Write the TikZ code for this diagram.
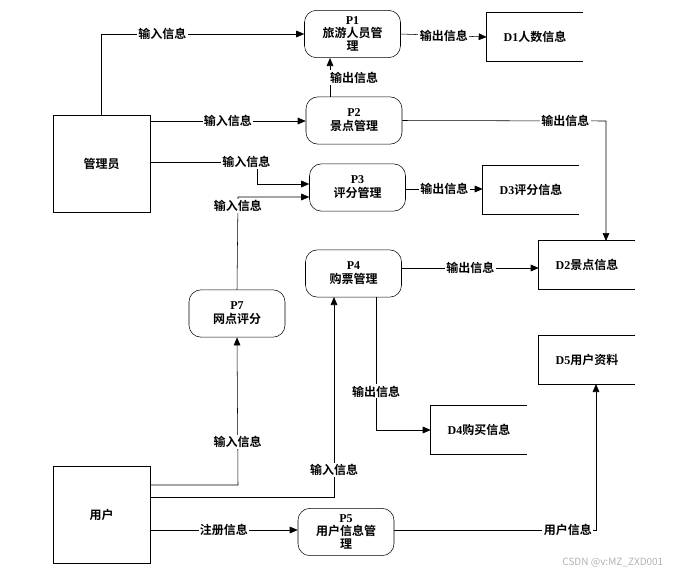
\documentclass[tikz,border=0pt]{standalone}
\usepackage{fontspec}
\setmainfont{Liberation Serif}
\newfontfamily\cjk{Noto Sans CJK SC}[BoldFont={Noto Sans CJK SC Bold}]
\usetikzlibrary{arrows.meta}
\begin{document}
\begin{tikzpicture}[x=0.75pt,y=-0.75pt,font=\bfseries\fontsize{9}{10.5}\selectfont,
 ent/.style={draw,semithick,minimum width=72.75pt,minimum height=72.75pt},
 proc/.style={draw,rounded corners=9pt,minimum width=72pt,minimum height=35.5pt,align=center,inner sep=1pt},
 lbl/.style={fill=white,inner sep=1pt},
 ar/.style={-{Triangle[length=6pt,width=5pt]}},
 st/.style={draw,minimum width=72pt,minimum height=36pt}]
\useasboundingbox (0,0) rectangle (674,575);
\node[ent] (adm) at (101.5,163.5) {\cjk 管理员};
\node[ent] (usr) at (101.5,514.5) {\cjk 用户};
\node[proc] (p1) at (352.5,34) {P1\\[-1pt]{\cjk 旅游人员管}\\[-1pt]{\cjk 理}};
\node[proc] (p2) at (354,120.5) {P2\\{\cjk 景点管理}};
\node[proc] (p3) at (357.5,187.5) {P3\\{\cjk 评分管理}};
\node[proc] (p4) at (353.5,273.5) {P4\\{\cjk 购票管理}};
\node[proc] (p7) at (237,313.5) {P7\\{\cjk 网点评分}};
\node[proc] (p5) at (346,532) {P5\\[-1pt]{\cjk 用户信息管}\\[-1pt]{\cjk 理}};
\foreach \n/\x/\y/\t in {d1/487/13/D1{\cjk 人数信息},d3/483/166/D3{\cjk 评分信息},d2/539/241/D2{\cjk 景点信息},d5/539/336/D5{\cjk 用户资料},d4/431/406/D4{\cjk 购买信息}}{
 \node[minimum width=72pt,minimum height=36pt] (\n) at (\x+48,\y+24) {\t};
 \draw (\n.north east) -- (\n.north west) -- (\n.south west) -- (\n.south east);
}
\draw[ar] (adm.north) |- (p1.west) node[lbl,pos=0.65] {\cjk 输入信息};
\draw[ar] (150,121) -- (p2.west |- 0,121) node[lbl,pos=0.5] {\cjk 输入信息};
\draw[ar] (150,162) -- (257,162) node[lbl,pos=0.9] {\cjk 输入信息} -- (257,184) -- (p3.west |- 0,184);
\draw[ar] (p7.north) -- (238,197) node[lbl,pos=0.9] {\cjk 输入信息} -- (p3.west |- 0,197);
\draw[ar] (p1.east) -- (d1.west) node[lbl,midway] {\cjk 输出信息};
\draw[ar] (330,97) -- (330,58) node[lbl,midway,xshift=18pt] {\cjk 输出信息};
\draw[ar] (p2.east) -- (606,121) node[lbl,pos=0.8] {\cjk 输出信息} -- (606,241);
\draw[ar] (p3.east |- 0,189) -- (d3.west |- 0,189) node[lbl,midway] {\cjk 输出信息};
\draw[ar] (p4.east |- 0,268) -- (d2.west |- 0,268) node[lbl,midway] {\cjk 输出信息};
\draw[ar] (376,297) -- (376,430) node[lbl,pos=0.71] {\cjk 输出信息} -- (d4.west |- 0,430);
\draw[ar] (150,485) -- (238,485) -- (p7.south) node[lbl,pos=0.29] {\cjk 输入信息};
\draw[ar] (150,497) -- (334,497) -- (334,297) node[lbl,pos=0.135] {\cjk 输入信息};
\draw[ar] (150,530) -- (p5.west |- 0,530) node[lbl,midway] {\cjk 注册信息};
\draw[ar] (p5.east |- 0,530) -- (596,530) node[lbl,pos=0.86] {\cjk 用户信息} -- (596,384);
\node[text=gray!60,font=\fontsize{7.5}{8}\selectfont,anchor=east] (wm) at (668,563) {{\cjk CSDN @v:MZ\_ZXD001}};
\end{tikzpicture}
\end{document}
